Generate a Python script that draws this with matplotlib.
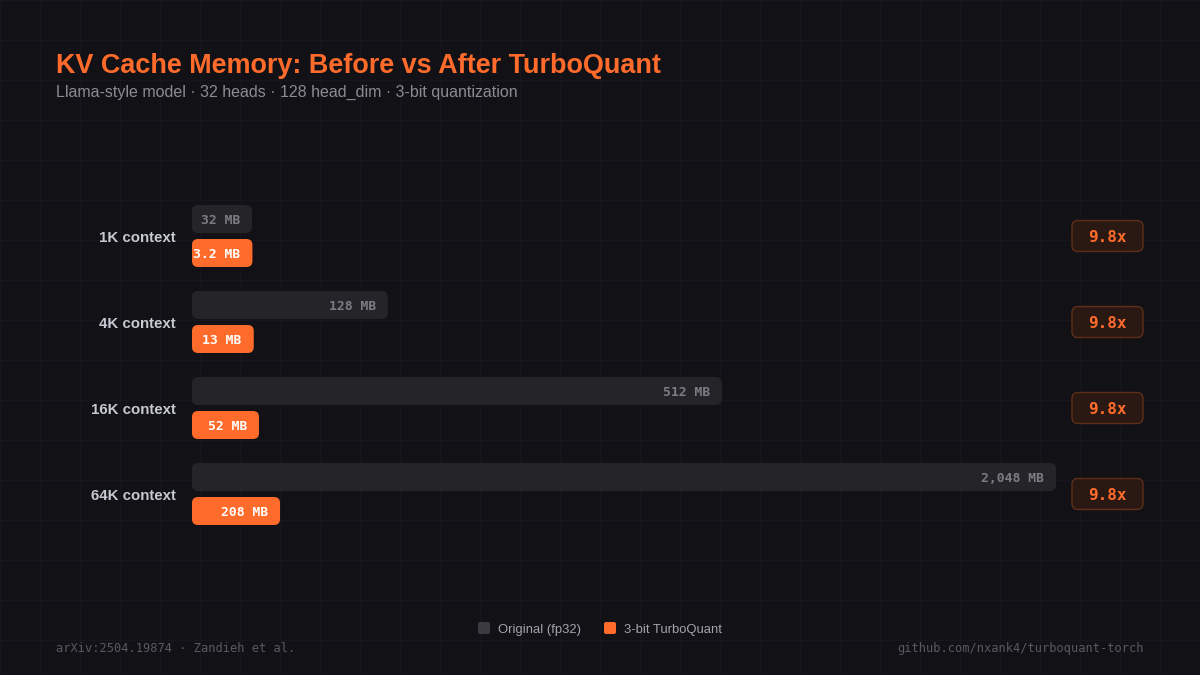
import matplotlib
matplotlib.use("Agg")
import matplotlib.pyplot as plt
from matplotlib.patches import FancyBboxPatch

# ---------------- data ----------------
contexts = ["1K context", "4K context", "16K context", "64K context"]
original_mb = [32, 128, 512, 2048]
turbo_mb = [3.2, 13, 52, 208]
original_labels = ["32 MB", "128 MB", "512 MB", "2,048 MB"]
turbo_labels = ["3.2 MB", "13 MB", "52 MB", "208 MB"]
ratio_labels = ["9.8x", "9.8x", "9.8x", "9.8x"]
legend_labels = ["Original (fp32)", "3-bit TurboQuant"]

# ---------------- style ----------------
W, H = 1200, 675
BG = "#111116"
GRID = "#16161c"
ORANGE = "#ff6b2b"
GRAY_BAR = "#242429"
GRAY_TXT = "#7c7c84"
LABEL = "#c6c9d1"
SANS = ["Liberation Sans", "DejaVu Sans"]
MONO = ["DejaVu Sans Mono"]
PT = 0.72  # px -> pt at 100 dpi

fig = plt.figure(figsize=(W / 100, H / 100), dpi=100)
fig.patch.set_facecolor(BG)

bg = fig.add_axes([0, 0, 1, 1])
bg.set_xlim(0, W)
bg.set_ylim(H, 0)
bg.set_axis_off()

# background grid
for gx in range(0, W + 1, 40):
    bg.plot([gx, gx], [0, H], color=GRID, lw=1, zorder=0)
for gy in range(0, H + 1, 40):
    bg.plot([0, W], [gy, gy], color=GRID, lw=1, zorder=0)

# value axes (invisible) used to map values to positions
top, bottom = 193, 537
ax_o = fig.add_axes([192 / W, (H - bottom) / H, 864 / W, (bottom - top) / H])
ax_o.set_xscale("log")
ax_o.set_xlim(56.8, 2048)
ax_o.set_ylim(len(contexts) - 0.5, -0.5)
ax_o.set_axis_off()

ax_t = fig.add_axes([252 / W, (H - bottom) / H, 276 / W, (bottom - top) / H])
ax_t.set_xlim(0, 2048)
ax_t.set_ylim(len(contexts) - 0.5, -0.5)
ax_t.set_axis_off()

inv = bg.transData.inverted()


def to_bg(ax, x, y):
    return inv.transform(ax.transData.transform((x, y)))


x_start = inv.transform(ax_o.transAxes.transform((0, 0)))[0]
MIN_W = 60
BAR_H = 28
GAP = 3

for i, ctx in enumerate(contexts):
    xe, yc = to_bg(ax_o, original_mb[i], i)
    xe = max(xe, x_start + MIN_W)
    # original bar
    bg.add_patch(FancyBboxPatch((x_start, yc - GAP - BAR_H), xe - x_start, BAR_H,
                                boxstyle="round,pad=0,rounding_size=6",
                                fc=GRAY_BAR, ec="none", zorder=2))
    bg.text(xe - 12, yc - GAP - BAR_H / 2, original_labels[i], ha="right", va="center_baseline",
            color=GRAY_TXT, fontsize=13 * PT, fontweight="bold", family=MONO, zorder=3)
    # turbo bar
    xt, _ = to_bg(ax_t, turbo_mb[i], i)
    bg.add_patch(FancyBboxPatch((x_start, yc + GAP), xt - x_start, BAR_H,
                                boxstyle="round,pad=0,rounding_size=6",
                                fc=ORANGE, ec="none", zorder=2))
    bg.text(xt - 12, yc + GAP + BAR_H / 2, turbo_labels[i], ha="right", va="center_baseline",
            color="white", fontsize=13 * PT, fontweight="bold", family=MONO, zorder=3)
    # category label
    bg.text(176, yc + 1, ctx, ha="right", va="center_baseline", color=LABEL,
            fontsize=15 * PT, fontweight="bold", family=SANS)
    # ratio badge
    bg.add_patch(FancyBboxPatch((1072, yc - 15.5), 71, 31,
                                boxstyle="round,pad=0,rounding_size=6",
                                fc="#2a1912", ec="#5e2f18", lw=1, zorder=2))
    bg.text(1107.5, yc, ratio_labels[i], ha="center", va="center_baseline", color=ORANGE,
            fontsize=16 * PT, fontweight="bold", family=MONO, zorder=3)

# title / subtitle
bg.text(56, 73, "KV Cache Memory: Before vs After TurboQuant", ha="left", va="baseline",
        color=ORANGE, fontsize=27 * PT, fontweight="bold", family=SANS)
bg.text(56, 97, "Llama-style model · 32 heads · 128 head_dim · 3-bit quantization",
        ha="left", va="baseline", color="#8b8b93", fontsize=16 * PT, family=SANS)

# legend
for lx, col, lab in [(478, "#3a3a40", legend_labels[0]), (604, ORANGE, legend_labels[1])]:
    bg.add_patch(FancyBboxPatch((lx, 622), 12, 12, boxstyle="round,pad=0,rounding_size=2",
                                fc=col, ec="none"))
    bg.text(lx + 20, 628, lab, ha="left", va="center_baseline", color="#a3a3ab",
            fontsize=13 * PT, family=SANS)

# footer
bg.text(56, 647, "arXiv:2504.19874 · Zandieh et al.", ha="left", va="center_baseline",
        color="#595961", fontsize=12 * PT, family=MONO)
bg.text(1144, 647, "github.com/nxank4/turboquant-torch", ha="right", va="center_baseline",
        color="#595961", fontsize=12 * PT, family=MONO)

fig.savefig("out.png", dpi=100, facecolor=BG)
